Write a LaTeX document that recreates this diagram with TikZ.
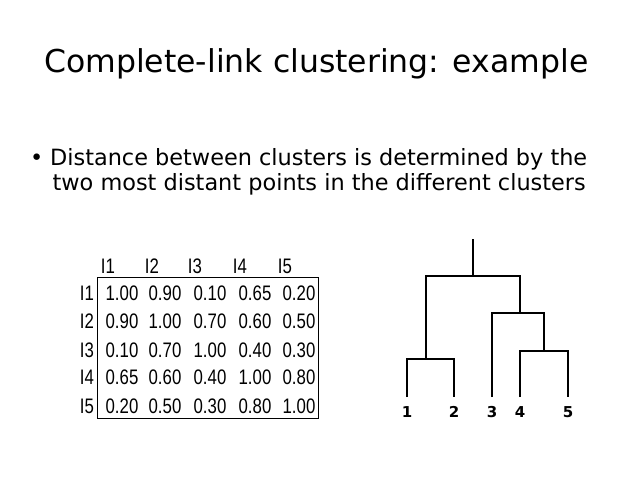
\documentclass[tikz,border=0pt]{standalone}
\usepackage{fontspec}
\setmainfont{DejaVu Sans}
\newfontfamily\tabfont{Liberation Sans}
\begin{document}
\begin{tikzpicture}[x=1pt,y=-1pt,
  cell/.style={font=\tabfont\fontsize{21}{21}\selectfont,inner sep=0pt,xscale=0.8},
  leaf/.style={font=\bfseries\fontsize{15}{15}\selectfont,inner sep=0pt},
  dline/.style={line width=1.2pt}]
\useasboundingbox (0,0) rectangle (638,479);
\node[anchor=west,font=\fontsize{31.5}{32}\selectfont,inner sep=0pt] (title) at (44,64) {Complete-link clustering: example};
\node[anchor=west,align=left,font=\fontsize{22.4}{25}\selectfont,inner sep=0pt] (bul) at (30,172)
 {•\hspace{0.3em}Distance between clusters is determined by the\\\hspace{1.0em}two most distant points in the different clusters};
% table
\draw[line width=0.9pt] (97,277) rectangle (318,418);
\foreach \c/\x in {1/108,2/152,3/195,4/240,5/285}
  \node[cell] (h\c) at (\x,266) {I\c};
\foreach \r/\y in {1/293,2/321,3/350,4/377,5/406}
  \node[cell] (r\r) at (87,\y) {I\r};
\foreach \row [count=\r] in {{1.00,0.90,0.10,0.65,0.20},{0.90,1.00,0.70,0.60,0.50},{0.10,0.70,1.00,0.40,0.30},{0.65,0.60,0.40,1.00,0.80},{0.20,0.50,0.30,0.80,1.00}}{
  \foreach \v [count=\c] in \row {
    \pgfmathsetmacro\xx{{122,165,210,255,299}[\c-1]}
    \pgfmathsetmacro\yy{{293,321,350,377,406}[\r-1]}
    \node[cell] (v\r\c) at (\xx,\yy) {\v};
  }
}
% dendrogram
\foreach \i/\x in {1/407,2/454,3/492,4/520,5/568}{
  \coordinate (l\i) at (\x,397);
  \node[leaf] (n\i) at (\x,412) {\i};
}
\coordinate (m12) at (426,359);
\coordinate (m45) at (544,351);
\coordinate (m345) at (520,313);
\coordinate (top) at (473,276);
\coordinate (root) at (473,239);
\draw[dline] (l1) |- (m12) -| (l2);
\draw[dline] (l4) |- (m45) -| (l5);
\draw[dline] (l3) |- (m345) -| (m45);
\draw[dline] (m12) |- (top) -| (m345);
\draw[dline] (top) -- (root);
\end{tikzpicture}
\end{document}
